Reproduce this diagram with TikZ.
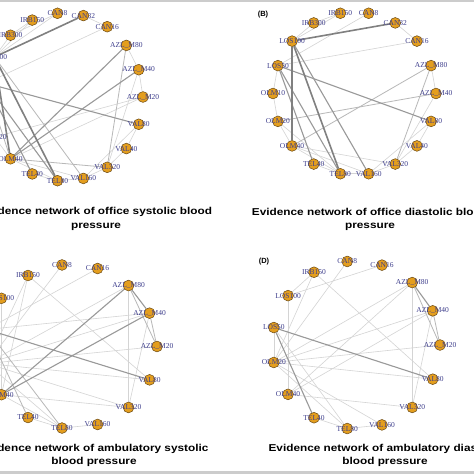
\documentclass[tikz,border=0pt]{standalone}
\usepackage{graphicx}
\usepackage{fontspec}
\setmainfont{Liberation Serif}
\newfontfamily\titlefont{Liberation Sans}
\definecolor{nodeor}{RGB}{228,158,30}
\definecolor{nodeed}{RGB}{105,72,20}
\definecolor{lblc}{RGB}{62,62,140}
\newcommand\wideT[1]{\scalebox{1.18}[1]{#1}}
\tikzset{
 x=1pt, y=-1pt,
 vslot/.style={circle, minimum size=10.5pt, inner sep=0pt},
 vtx/.style={circle, fill=nodeor, draw=nodeed, line width=0.5pt, minimum size=10.8pt, inner sep=0pt},
 lbl/.style={text=lblc, font=\fontsize{7.5}{8}\selectfont, inner sep=0pt},
 ttl/.style={font=\titlefont\bfseries\fontsize{10}{12}\selectfont, inner sep=0pt},
 plab/.style={font=\titlefont\bfseries\fontsize{7.5}{9}\selectfont, inner sep=0pt},
 ea/.style={draw=black!17, line width=0.6pt},
 eb/.style={draw=black!28, line width=0.8pt},
 ec/.style={draw=black!40, line width=1.1pt},
 ed/.style={draw=black!50, line width=1.6pt},
}
% #1 prefix, #2 n, #3 cx, #4 cy, #5 rx, #6 ry, #7 names
\newcommand\mkslots[7]{%
 \foreach \nm [count=\i from 0] in {#7} {
   \pgfmathsetmacro\ang{\i*360/#2}
   \node[vslot] (#1\i) at ({#3+#5*cos(\ang)},{#4-#6*sin(\ang)}) {};
 }}
\newcommand\mkverts[2]{%
 \foreach \nm [count=\i from 0] in {#2} {
   \node[vtx, label={[lbl]center:\nm}] at (#1\i.center) {};
 }}
\newcommand\mkedges[3]{\foreach \p/\q in {#3} {\draw[#2] (#1\p) -- (#1\q);}}
\begin{document}
\begin{tikzpicture}
\useasboundingbox (0,0) rectangle (474,474);
\clip (0,0) rectangle (474,474);
\fill[white] (0,0) rectangle (474,474);
\fill[black!20] (0,0) rectangle (474,2);
\fill[black!20] (0,471) rectangle (474,474);

% ---------- panel A
\mkslots{a}{19}{64}{97}{79}{84}{AZL\_M20,AZL\_M40,AZL\_M80,CAN16,CAN32,CAN8,IRB150,IRB300,LOS100,LOS50,OLM10,OLM20,OLM40,TEL40,TEL80,VAL160,VAL320,VAL40,VAL80}
\mkedges{a}{ea}{3/9,5/7,6/7,6/8,5/8,0/1,1/2,0/11,0/12,1/16,17/18,18/15,12/14,13/14,14/15,15/16,11/12,10/11,9/10,3/4,7/8,16/17,12/15}
\mkedges{a}{eb}{8/15,2/16,12/16,9/12}
\mkedges{a}{ec}{9/18,2/12,1/12,9/14,9/13}
\mkedges{a}{ed}{4/8,8/12,8/14}
\mkverts{a}{AZL\_M20,AZL\_M40,AZL\_M80,CAN16,CAN32,CAN8,IRB150,IRB300,LOS100,LOS50,OLM10,OLM20,OLM40,TEL40,TEL80,VAL160,VAL320,VAL40,VAL80}

% ---------- panel B
\mkslots{b}{18}{354.5}{93.5}{81.5}{81.5}{AZL\_M40,AZL\_M80,CAN16,CAN32,CAN8,IRB150,IRB300,LOS100,LOS50,OLM10,OLM20,OLM40,TEL40,TEL80,VAL160,VAL320,VAL40,VAL80}
\mkedges{b}{ea}{2/8,0/15,0/1,16/17,15/16,11/15,11/13,12/13,13/14,9/10,10/11,8/9,5/6,6/7,4/8,3/2,5/7,10/13,17/14,11/14,14/15}
\mkedges{b}{eb}{11/1,10/0,1/15}
\mkedges{b}{ec}{8/17,7/14,8/12,8/13}
\mkedges{b}{ed}{3/7,7/11,7/13}
\mkverts{b}{AZL\_M40,AZL\_M80,CAN16,CAN32,CAN8,IRB150,IRB300,LOS100,LOS50,OLM10,OLM20,OLM40,TEL40,TEL80,VAL160,VAL320,VAL40,VAL80}

% ---------- panel C
\mkslots{c}{15}{71}{346.5}{86}{82}{AZL\_M20,AZL\_M40,AZL\_M80,CAN16,CAN8,IRB150,LOS100,LOS50,OLM20,OLM40,TEL40,TEL80,VAL160,VAL320,VAL80}
\mkedges{c}{ea}{2/13,1/13,3/7,4/8,5/14,5/9,5/8,6/9,9/11,9/13,10/11,11/12,8/14,8/0,8/1,8/2,8/13,7/1,8/11}
\mkedges{c}{eb}{0/2,0/1,7/11,7/10}
\mkedges{c}{ec}{7/14,2/9,1/9,1/2}
\mkverts{c}{AZL\_M20,AZL\_M40,AZL\_M80,CAN16,CAN8,IRB150,LOS100,LOS50,OLM20,OLM40,TEL40,TEL80,VAL160,VAL320,VAL80}

% ---------- panel D
\mkslots{d}{15}{356}{345}{84}{84}{AZL\_M20,AZL\_M40,AZL\_M80,CAN16,CAN8,IRB150,LOS100,LOS50,OLM20,OLM40,TEL40,TEL80,VAL160,VAL320,VAL80}
\mkedges{d}{ea}{2/13,1/13,2/8,2/9,1/8,1/9,0/8,8/14,5/14,5/6,5/8,3/6,4/8,6/9,7/8,8/11,8/12,9/13,10/11,11/12,7/11}
\mkedges{d}{eb}{0/2,0/1}
\mkedges{d}{ec}{7/14,7/10,1/2}
\mkverts{d}{AZL\_M20,AZL\_M40,AZL\_M80,CAN16,CAN8,IRB150,LOS100,LOS50,OLM20,OLM40,TEL40,TEL80,VAL160,VAL320,VAL80}

% ---------- labels and titles
\node[plab] (pB) at (263,15) {(B)};
\node[plab] (pD) at (264,262) {(D)};
\node[ttl] (tA1) at (96,212) {\wideT{Evidence network of office systolic blood}};
\node[ttl] (tA2) at (96,227) {\wideT{pressure}};
\node[ttl] (tB1) at (370,212) {\wideT{Evidence network of office diastolic blood}};
\node[ttl] (tB2) at (370,227) {\wideT{pressure}};
\node[ttl] (tC1) at (94,449) {\wideT{Evidence network of ambulatory systolic}};
\node[ttl] (tC2) at (94,462) {\wideT{blood pressure}};
\node[ttl] (tD1) at (385,449) {\wideT{Evidence network of ambulatory diastolic}};
\node[ttl] (tD2) at (385,462) {\wideT{blood pressure}};
\end{tikzpicture}
\end{document}
